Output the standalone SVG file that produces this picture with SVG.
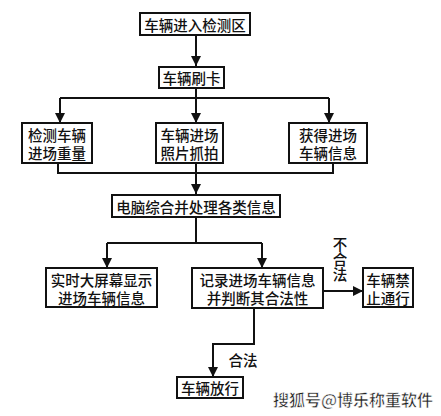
<svg xmlns="http://www.w3.org/2000/svg" width="441" height="416" viewBox="0 0 441 416">
<defs>
<marker id="ah" viewBox="0 0 10 10" refX="10" refY="5" markerWidth="5" markerHeight="5" orient="auto" markerUnits="strokeWidth">
<path d="M0,0 L10,5 L0,10 z" fill="#111"/>
</marker>
<style>
.box{fill:#fff;stroke:#111;stroke-width:2}
.t{font-family:"Noto Sans CJK SC","Noto Sans",sans-serif;font-size:14.5px;font-weight:500;fill:#111;text-anchor:middle;dominant-baseline:central}
.v{font-family:"Noto Sans CJK SC","Noto Sans",sans-serif;font-size:14.5px;font-weight:500;fill:#111;writing-mode:vertical-rl;text-anchor:middle;letter-spacing:0.5px}
.ln{fill:none;stroke:#111;stroke-width:2}
.wm{font-family:"Noto Sans CJK SC",sans-serif;font-size:16px;font-weight:bold;fill:#222;stroke:#fff;stroke-width:0.6;text-anchor:start;dominant-baseline:central}
</style>
</defs>
<rect width="441" height="416" fill="#fff"/>
<g id="connectors">
<path class="ln" d="M196,35 V66" marker-end="url(#ah)"/>
<path class="ln" d="M196,88 V98 M60,98 H329"/>
<path class="ln" d="M60,98 V123" marker-end="url(#ah)"/>
<path class="ln" d="M196,98 V123" marker-end="url(#ah)"/>
<path class="ln" d="M329,98 V123" marker-end="url(#ah)"/>
<path class="ln" d="M58,163 V173 H333 V163"/>
<path class="ln" d="M196,163 V194" marker-end="url(#ah)"/>
<path class="ln" d="M196,217 V243 M107,243 H262"/>
<path class="ln" d="M107,243 V268" marker-end="url(#ah)"/>
<path class="ln" d="M262,243 V268" marker-end="url(#ah)"/>
<path class="ln" d="M323,291 H363" marker-end="url(#ah)"/>
<path class="ln" d="M254,308 V344 H213 V377" marker-end="url(#ah)"/>
<text class="v" x="340" y="260">不合法</text>
<text class="t" x="243" y="359">合法</text>
</g>
<g id="n1"><rect class="box" x="140" y="13" width="110" height="22"/><text class="t" x="195" y="24">车辆进入检测区</text></g>
<g id="n2"><rect class="box" x="159" y="67" width="65" height="21"/><text class="t" x="191.5" y="77.5">车辆刷卡</text></g>
<g id="n3"><rect class="box" x="22" y="123" width="70" height="40"/><text class="t" x="57" y="134">检测车辆<tspan x="57" dy="18">进场重量</tspan></text></g>
<g id="n4"><rect class="box" x="156" y="123" width="67" height="40"/><text class="t" x="189.5" y="134">车辆进场<tspan x="189.5" dy="18">照片抓拍</tspan></text></g>
<g id="n5"><rect class="box" x="289" y="123" width="78" height="40"/><text class="t" x="328" y="134">获得进场<tspan x="328" dy="18">车辆信息</tspan></text></g>
<g id="n6"><rect class="box" x="112" y="195" width="168" height="22"/><text class="t" x="196" y="206">电脑综合并处理各类信息</text></g>
<g id="n7"><rect class="box" x="46" y="268" width="111" height="39"/><text class="t" x="101.5" y="279">实时大屏幕显示<tspan x="101.5" dy="18">进场车辆信息</tspan></text></g>
<g id="n8"><rect class="box" x="192" y="268" width="131" height="40"/><text class="t" x="257.5" y="279">记录进场车辆信息<tspan x="257.5" dy="18">并判断其合法性</tspan></text></g>
<g id="n9"><rect class="box" x="363" y="268" width="50" height="39"/><text class="t" x="388" y="279">车辆禁<tspan x="388" dy="18">止通行</tspan></text></g>
<g id="n10"><rect class="box" x="177" y="377" width="66" height="21"/><text class="t" x="210" y="387.5">车辆放行</text></g>
<text class="wm" x="273" y="399">搜狐号@博乐称重软件</text>
</svg>
